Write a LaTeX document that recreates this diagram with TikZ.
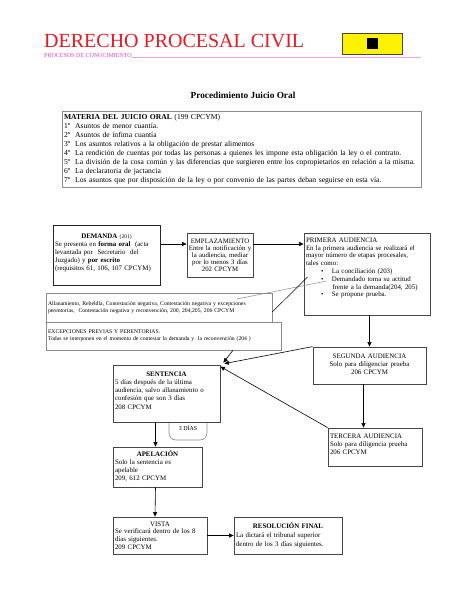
\documentclass[tikz,border=0pt]{standalone}
\usepackage{fontspec}
\setmainfont{Liberation Serif}
\usetikzlibrary{arrows.meta}
\definecolor{rojotitulo}{RGB}{232,24,36}
\definecolor{lilatexto}{RGB}{214,70,214}
\definecolor{lilalinea}{RGB}{238,165,238}
\definecolor{gristrazo}{RGB}{70,70,70}
\definecolor{grisclaro}{RGB}{140,140,140}

\begin{document}
\begin{tikzpicture}[x=1pt, y=-1pt, >={Triangle[length=4.5pt,width=4pt]},
	caja/.style={rectangle, draw=gristrazo, line width=0.8pt, fill=white, inner xsep=2pt, inner ysep=2pt, font=\fontsize{6.9}{7.8}\selectfont},
	nota/.style={caja, draw=grisclaro, line width=0.5pt, font=\fontsize{5.7}{7.4}\selectfont},
	flecha/.style={->, line width=0.6pt, black}]
  	\def \vineta {\hspace*{15pt}\textbullet\hspace*{8.5pt}};
  	\def \hueco #1{\par\vspace*{#1}\hrule height 0pt};
  	\useasboundingbox[fill=white] (0,0) rectangle (474,613);
  	
  	\node[anchor=base west, inner sep=0pt, text=rojotitulo, font=\fontsize{20}{20}\selectfont](titulo) at (44,47) {DERECHO PROCESAL CIVIL};
  	\node[anchor=base west, inner sep=0pt, text=lilatexto, font=\fontsize{6}{6}\selectfont](sub) at (44,57) {PROCESOS DE CONOCIMIENTO};
  	\coordinate (finlinea) at (421,57.5);
  	\draw[lilalinea, line width=0.6pt] ([yshift=-0.5pt]sub.base east) -- (finlinea);
  	\node[rectangle, draw=gristrazo, line width=0.9pt, fill=yellow, minimum width=60pt, minimum height=21pt](amarillo) at (372,43.5) {};
  	\node[rectangle, fill=black, minimum size=11pt, inner sep=0pt](cuadro) at (amarillo.center) {};
  	
  	\node[font=\bfseries\fontsize{9.3}{9.3}\selectfont](proc) at (243,95) {Procedimiento Juicio Oral};
  	\node[caja, draw=grisclaro, line width=0.6pt, minimum width=359pt, minimum height=76pt, text width=355pt, inner xsep=1.5pt, align=left, font=\fontsize{7.6}{9}\selectfont](materia) at (241.5,149) {\textbf{MATERIA DEL JUICIO ORAL} (199 CPCYM)\\
  		1º\ \ Asuntos de menor cuantía.\\
  		2º\ \ Asuntos de ínfima cuantía\\
  		3º\ \ Los asuntos relativos a la obligación de prestar alimentos\\
  		4º\ \ La rendición de cuentas por todas las personas a quienes les impone esta obligación la ley o el contrato.\\
  		5º\ \ La división de la cosa común y las diferencias que surgieren entre los copropietarios en relación a la misma.\\
  		6º\ \ La declaratoria de jactancia\\
  		7º\ \ Los asuntos que por disposición de la ley o por convenio de las partes deban seguirse en esta vía.};
  	
  	\node[caja, line width=1pt, draw=black!85, minimum width=107pt, minimum height=60pt, text width=103pt, align=left, font=\fontsize{6.9}{8.2}\selectfont](demanda) at (106.5,255) {{\centering\textbf{DEMANDA} {\fontsize{5.5}{5.5}\selectfont(201)}\par}
  		Se presenta en \textbf{forma oral}\ \ (acta\\
  		levantada por\ \ Secretario\ \ del\\
  		Juzgado) y \textbf{por escrito}\\
  		(requisitos 61, 106, 107 CPCYM)\hueco{4pt}};
  	\node[caja, inner xsep=0.5pt, minimum width=66pt, minimum height=44pt, text width=65pt, align=center, font=\fontsize{6.8}{7.1}\selectfont](emplaz) at (220,255) {EMPLAZAMIENTO\\
  		Entre la notificación y\\
  		la audiencia, mediar\\
  		por lo menos 3 días\\
  		202 CPCYM};
  	\node[caja, minimum width=126pt, minimum height=82pt, text width=122pt, align=left](primera) at (367,274) {PRIMERA AUDIENCIA\\
  		En la primera audiencia se realizará el\\
  		mayor número de etapas procesales,\\
  		tales como:\\
  		\vineta La conciliación (203)\\
  		\vineta Demandado toma su actitud\\
  		\hspace*{26.4pt}frente a la demanda(204, 205)\\
  		\vineta Se propone prueba.\hueco{12pt}};
  	
  	\node[nota, minimum width=226pt, minimum height=29pt, text width=222pt, align=left](allana) at (159,307.5) {Allanamiento, Rebeldía, Contestación negativa, Contestación negativa y excepciones\\
  		perentorias,\ \ Contestación negativa y reconvención, 200, 204,205, 206 CPCYM};
  	\node[nota, minimum width=235pt, minimum height=28pt, text width=231pt, align=left](excep) at (163.5,336) {EXCEPCIONES PREVIAS Y PERENTORIAS.\\
  		Todas se interponen en el momento de contestar la demanda y\ \ la reconvención (204 )};
  	\coordinate (puntaA) at ([xshift=23pt, yshift=-7pt]primera.west);
  	\coordinate (puntaB) at ([xshift=4pt, yshift=-3pt]primera.west);
  	\draw[grisclaro, line width=0.5pt] ([xshift=78pt, yshift=8.5pt]allana.center) -- (puntaA);
  	\draw[black, line width=0.5pt] ([yshift=-4.5pt]allana.east) -- (puntaB);
  	
  	\node[caja, minimum width=113pt, minimum height=37pt, text width=109pt, align=center](segunda) at (369.5,365.5) {SEGUNDA AUDIENCIA\\
  		Solo para diligenciar prueba\\
  		206 CPCYM\hueco{3pt}};
  	\node[caja, minimum width=94pt, minimum height=38pt, text width=90pt, align=left](tercera) at (375,447) {TERCERA AUDIENCIA\\
  		Solo para diligencia prueba\\
  		206 CPCYM\hueco{5pt}};
  	\node[rectangle, rounded corners=7pt, draw=grisclaro, line width=0.6pt, minimum width=38pt, minimum height=24pt, font=\fontsize{6}{6}\selectfont](tresdias) at (188,428) {\raisebox{-1.5pt}{3 DÍAS}};
  	\node[caja, minimum width=107pt, minimum height=57pt, text width=103pt, align=left, font=\fontsize{6.9}{8.2}\selectfont](sentencia) at (166.5,393.5) {{\centering\textbf{SENTENCIA}\par}
  		5 días después de la última\\
  		audiencia, salvo allanamiento o\\
  		confesión que son 3 días\\
  		208 CPCYM\hueco{6pt}};
  	\node[caja, minimum width=89pt, minimum height=40pt, text width=85pt, align=left](apelacion) at (157.5,467) {{\centering\textbf{APELACIÓN}\par}
  		Solo la sentencia es\\
  		apelable\\
  		209, 612 CPCYM\hueco{2pt}};
  	\node[caja, minimum width=94pt, minimum height=37pt, text width=90pt, align=left](vista) at (160,535.5) {{\centering VISTA\par}
  		Se verificará dentro de los 8\\
  		días siguientes.\\
  		209 CPCYM};
  	\node[caja, minimum width=108pt, minimum height=37pt, text width=104pt, align=left, font=\fontsize{6.9}{9}\selectfont](resolucion) at (288,535.5) {{\centering\textbf{RESOLUCIÓN FINAL}\par}
  		La dictará el tribunal superior\\
  		dentro de los 3 días siguientes.};
  	
  	\draw[flecha] ([yshift=11pt]demanda.east) -- ([yshift=11pt]emplaz.west);
  	\draw[flecha] ([yshift=11pt]emplaz.east) -- ([yshift=30pt]primera.west);
  	\draw[flecha] (segunda.north |- primera.south) -- (segunda.north);
  	\draw[flecha] ([xshift=-6pt]segunda.south) -- ([xshift=-6pt]segunda.south |- tercera.north);
  	\draw[flecha] ([xshift=69.5pt]excep.south) -- ([xshift=3pt, yshift=2pt]sentencia.north east);
  	\draw[flecha] (segunda.north west) -- ([xshift=4pt, yshift=1pt]sentencia.north east);
  	\draw[flecha] (tercera.north west) -- ([xshift=0pt, yshift=-2pt]sentencia.north east);
  	\draw[flecha] ([xshift=-11pt]sentencia.south) -- ([xshift=-2pt]apelacion.north);
  	\draw[flecha] ([xshift=-2pt]apelacion.south) -- ([xshift=-5pt]vista.north);
  	\draw[flecha] (vista.east) -- (resolucion.west);
\end{tikzpicture}
\end{document}
